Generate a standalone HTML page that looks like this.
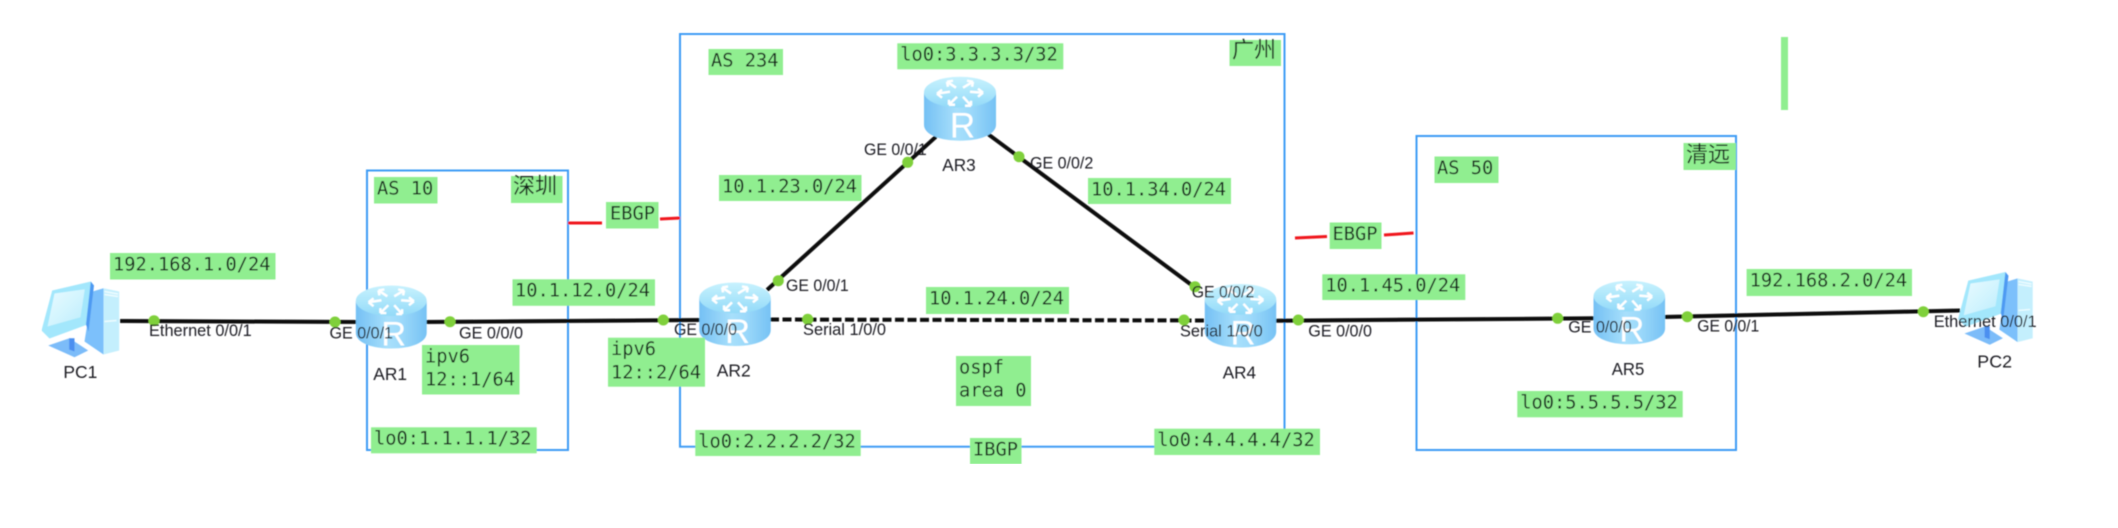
<!DOCTYPE html>
<html>
<head>
<meta charset="utf-8">
<style>
html,body{margin:0;padding:0;background:#fff;width:2118px;height:528px;overflow:hidden}
svg{display:block}
.m{font-family:"DejaVu Sans Mono","Liberation Mono",monospace;font-size:18.7px;fill:#14241a}
.s{font-family:"Liberation Sans",sans-serif;font-size:17px;fill:#1c1c24}
.n{font-family:"Liberation Sans",sans-serif;font-size:17.5px;fill:#1c1c24}
.c{font-family:"Noto Sans CJK SC","WenQuanYi Zen Hei",sans-serif;font-size:22px;fill:#14241a}
.g{fill:#90ee90}
.d{fill:#7fd03a}
.b{fill:none;stroke:#3d9bf5;stroke-width:2}
.l{stroke:#0a0a0a;stroke-width:4;fill:none}
.r{stroke:#f0141e;stroke-width:3;fill:none}
</style>
</head>
<body>
<svg width="2118" height="528" viewBox="0 0 2118 528" xmlns="http://www.w3.org/2000/svg">
<defs>
<filter id="bl" x="0" y="0" width="100%" height="100%"><feGaussianBlur stdDeviation="0.5"/></filter>
<linearGradient id="rb" x1="0" x2="1" y1="0" y2="0">
<stop offset="0" stop-color="#74c0f4"/><stop offset="0.45" stop-color="#a8e0fb"/><stop offset="0.65" stop-color="#9cd9fa"/><stop offset="1" stop-color="#76c2f4"/>
</linearGradient>
<linearGradient id="rt" x1="0" x2="0" y1="0" y2="1">
<stop offset="0" stop-color="#c8f2fe"/><stop offset="1" stop-color="#93daf8"/>
</linearGradient>
<linearGradient id="ps" x1="0" x2="1" y1="0" y2="1">
<stop offset="0" stop-color="#eafbff"/><stop offset="1" stop-color="#bdeefd"/>
</linearGradient>
<symbol id="router" viewBox="0 0 72 64" overflow="visible">
<path d="M0 16V48C0 58 16 64 36 64S72 58 72 48V16Z" fill="url(#rb)"/>
<ellipse cx="36" cy="15.500" rx="36" ry="15.500" fill="url(#rt)"/>
<g stroke="#fff" stroke-width="2.500" fill="none">
<path d="M23 5l9 6M23 5l6-1M23 5l1 5"/>
<path d="M49 5l-10 6M49 5l-6-1M49 5l-1 5"/>
<path d="M13 17l13-2M13 17l5-4M13 17l5 4"/>
<path d="M59 16l-13-1M59 16l-5-4M59 16l-5 4"/>
<path d="M25 28l8-8M25 28l6 0M25 28l0-5"/>
<path d="M47 29l-8-9M47 29l-6 0M47 29l0-5"/>
</g>
<text x="38.500" y="61" text-anchor="middle" font-family="Liberation Sans,sans-serif" font-size="35" fill="#fff">R</text>
</symbol>
<symbol id="pc" viewBox="0 0 78 76" overflow="visible">
<path d="M51 10L62 6.700L62 73L43 60Z" fill="#7cc0fb"/>
<path d="M62 6.700L77.700 10L77.700 69L62 73Z" fill="#c4effd"/>
<path d="M63 10L76.500 12.500M63 13L76.500 15M63 40L75 39" stroke="#eefcff" stroke-width="1.500" fill="none"/>
<path d="M6.700 64L28 56.700L46.700 69L33 75.700Z" fill="#7cbcf9"/>
<path d="M27.700 56.700L33 56.700L33 70L27.700 68Z" fill="#4b8ff0"/>
<path d="M10.700 9L49.300 0L51 3L46 43L8 57L0 49Z" fill="#a3e7fc"/>
<path d="M13 12L43.300 7.700L39 35.700L6 45Z" fill="url(#ps)"/>
<path d="M49.300 0L52.500 4L47 50L44.500 43Z" fill="#4d9af2"/>
</symbol>
</defs>
<rect width="2118" height="528" fill="#fff"/>
<g filter="url(#bl)">

<!-- region boxes -->
<rect class="b" x="367" y="170.500" width="201" height="279.500"/>
<rect class="b" x="680" y="34" width="604.500" height="412.700"/>
<rect class="b" x="1416.500" y="136" width="319.500" height="314"/>

<!-- EBGP lines -->
<path class="r" d="M568 223H602"/>
<path class="r" d="M660 219L680 218"/>
<path class="r" d="M1295 238L1327 236.500"/>
<path class="r" d="M1384 235L1413.500 233"/>

<!-- links -->
<path class="l" d="M120 321L360 322"/>
<path class="l" d="M425 322L702 320"/>
<path class="l" d="M767 290L936 136.700"/>
<path class="l" d="M988.300 134.300L1197 289"/>
<path class="l" d="M770 319.500L1207 320.500" stroke-dasharray="9 3.500"/>
<path class="l" d="M1274 320.700L1596 318.300"/>
<path class="l" d="M1663 317L1960 310.500"/>

<!-- green labels -->
<rect class="g" x="110" y="253" width="165.500" height="26.500"/>
<text class="m" x="113" y="270.300">192.168.1.0/24</text>
<rect class="g" x="374" y="177" width="63.500" height="26.500"/>
<text class="m" x="377" y="194.300">AS 10</text>
<rect class="g" x="511" y="176" width="51.500" height="27"/>
<text class="c" x="513" y="193.500">深圳</text>
<rect class="g" x="606" y="202" width="52.500" height="26.500"/>
<text class="m" x="610" y="219.300">EBGP</text>
<rect class="g" x="512.500" y="279.300" width="142.500" height="26.500"/>
<text class="m" x="515" y="296.600">10.1.12.0/24</text>
<rect class="g" x="371" y="427.300" width="165.700" height="26"/>
<text class="m" x="374" y="444.600">lo0:1.1.1.1/32</text>

<rect class="g" x="708.500" y="49" width="74.500" height="26"/>
<text class="m" x="711" y="66.300">AS 234</text>
<rect class="g" x="897.300" y="43.300" width="166" height="26"/>
<text class="m" x="900.300" y="60.600">lo0:3.3.3.3/32</text>
<rect class="g" x="1229.500" y="40" width="51.500" height="26"/>
<text class="c" x="1232" y="57.500">广州</text>
<rect class="g" x="719" y="175" width="142.500" height="26"/>
<text class="m" x="722" y="192.300">10.1.23.0/24</text>
<rect class="g" x="1088" y="178" width="143" height="26"/>
<text class="m" x="1091" y="195.300">10.1.34.0/24</text>
<rect class="g" x="926" y="287" width="143" height="27"/>
<text class="m" x="929" y="304.300">10.1.24.0/24</text>
<rect class="g" x="956" y="356" width="75" height="50"/>
<text class="m" x="959" y="373.300">ospf</text>
<text class="m" x="959" y="396.600">area 0</text>
<rect class="g" x="695.300" y="430" width="165.400" height="26"/>
<text class="m" x="698.300" y="447.300">lo0:2.2.2.2/32</text>
<rect class="g" x="970" y="438" width="51.500" height="26"/>
<text class="m" x="973" y="455.300">IBGP</text>
<rect class="g" x="1154.300" y="428.700" width="165.700" height="26.300"/>
<text class="m" x="1157.300" y="446">lo0:4.4.4.4/32</text>

<rect class="g" x="1781" y="37" width="7" height="73"/>
<rect class="g" x="1683.500" y="143" width="52.500" height="27"/>
<svg x="1683" y="143" width="54" height="27" overflow="hidden"><text class="c" x="3" y="19">清远</text></svg>
<rect class="g" x="1434.500" y="156.500" width="64" height="26.500"/>
<text class="m" x="1437" y="173.800">AS 50</text>
<rect class="g" x="1329.700" y="222.500" width="51.800" height="26.500"/>
<text class="m" x="1332.500" y="239.800">EBGP</text>
<rect class="g" x="1322.300" y="274.300" width="143" height="25.700"/>
<text class="m" x="1325.300" y="291.600">10.1.45.0/24</text>
<rect class="g" x="1746.600" y="269" width="165.400" height="27"/>
<text class="m" x="1749.600" y="286.300">192.168.2.0/24</text>
<rect class="g" x="1517.300" y="391" width="165.400" height="26.300"/>
<text class="m" x="1520.300" y="408.300">lo0:5.5.5.5/32</text>

<!-- devices -->
<use href="#pc" x="41.500" y="281.500" width="78" height="76"/>
<use href="#pc" x="1958" y="270.500" width="75" height="76"/>
<use href="#router" x="355.500" y="285.500" width="71.500" height="63"/>
<use href="#router" x="699" y="282.500" width="72" height="63.500"/>
<use href="#router" x="924" y="76.700" width="72" height="64"/>
<use href="#router" x="1204.500" y="284" width="72" height="63.500"/>
<use href="#router" x="1593.300" y="280.700" width="72" height="63.600"/>

<!-- labels over routers -->
<rect class="g" x="422" y="345" width="97.500" height="49.500"/>
<text class="m" x="425" y="362.500">ipv6</text>
<text class="m" x="425" y="385.700">12::1/64</text>
<rect class="g" x="608" y="337.700" width="97" height="49"/>
<text class="m" x="611" y="355">ipv6</text>
<text class="m" x="611" y="378.300">12::2/64</text>

<!-- port dots -->
<g class="d">
<circle cx="154" cy="320.700" r="5.500"/>
<circle cx="335" cy="322" r="5.500"/>
<circle cx="450" cy="321.700" r="5.500"/>
<circle cx="663.300" cy="320" r="5.500"/>
<circle cx="907.700" cy="162.300" r="5.500"/>
<circle cx="1019" cy="156.700" r="5.500"/>
<circle cx="778.300" cy="280.700" r="5.500"/>
<circle cx="807.700" cy="319.300" r="5.500"/>
<circle cx="1184" cy="320" r="5.500"/>
<circle cx="1195" cy="286.700" r="5.500"/>
<circle cx="1298.300" cy="320" r="5.500"/>
<circle cx="1557.700" cy="318.300" r="5.500"/>
<circle cx="1687.300" cy="316.700" r="5.500"/>
<circle cx="1923.300" cy="311.700" r="5.500"/>
</g>

<!-- interface labels -->
<text class="s" x="149" y="336" textLength="102.700" lengthAdjust="spacingAndGlyphs">Ethernet 0/0/1</text>
<text class="s" x="329.500" y="338.300" textLength="63.500" lengthAdjust="spacingAndGlyphs">GE 0/0/1</text>
<text class="s" x="459" y="338.300" textLength="64" lengthAdjust="spacingAndGlyphs">GE 0/0/0</text>
<text class="s" x="674" y="335" textLength="63" lengthAdjust="spacingAndGlyphs">GE 0/0/0</text>
<text class="s" x="864" y="155" textLength="62.700" lengthAdjust="spacingAndGlyphs">GE 0/0/1</text>
<text class="s" x="1030" y="168.300" textLength="63.300" lengthAdjust="spacingAndGlyphs">GE 0/0/2</text>
<text class="s" x="786" y="291" textLength="62.700" lengthAdjust="spacingAndGlyphs">GE 0/0/1</text>
<text class="s" x="803" y="335" textLength="83" lengthAdjust="spacingAndGlyphs">Serial 1/0/0</text>
<text class="s" x="1191.700" y="297.300" textLength="62.600" lengthAdjust="spacingAndGlyphs">GE 0/0/2</text>
<text class="s" x="1180" y="336.700" textLength="82.700" lengthAdjust="spacingAndGlyphs">Serial 1/0/0</text>
<text class="s" x="1308.300" y="336.700" textLength="63.700" lengthAdjust="spacingAndGlyphs">GE 0/0/0</text>
<text class="s" x="1568.300" y="332.700" textLength="63.400" lengthAdjust="spacingAndGlyphs">GE 0/0/0</text>
<text class="s" x="1697.300" y="331.700" textLength="62" lengthAdjust="spacingAndGlyphs">GE 0/0/1</text>
<text class="s" x="1933.700" y="327" textLength="103" lengthAdjust="spacingAndGlyphs">Ethernet 0/0/1</text>

<!-- device names -->
<text class="n" x="63.400" y="378" textLength="34" lengthAdjust="spacingAndGlyphs">PC1</text>
<text class="n" x="373.300" y="380" textLength="33.700" lengthAdjust="spacingAndGlyphs">AR1</text>
<text class="n" x="716.700" y="376.700" textLength="34" lengthAdjust="spacingAndGlyphs">AR2</text>
<text class="n" x="942.300" y="171" textLength="33.400" lengthAdjust="spacingAndGlyphs">AR3</text>
<text class="n" x="1222.700" y="378.300" textLength="33.300" lengthAdjust="spacingAndGlyphs">AR4</text>
<text class="n" x="1611.700" y="375" textLength="32.600" lengthAdjust="spacingAndGlyphs">AR5</text>
<text class="n" x="1977.300" y="367.700" textLength="34.700" lengthAdjust="spacingAndGlyphs">PC2</text>
</g>
</svg>
</body>
</html>
